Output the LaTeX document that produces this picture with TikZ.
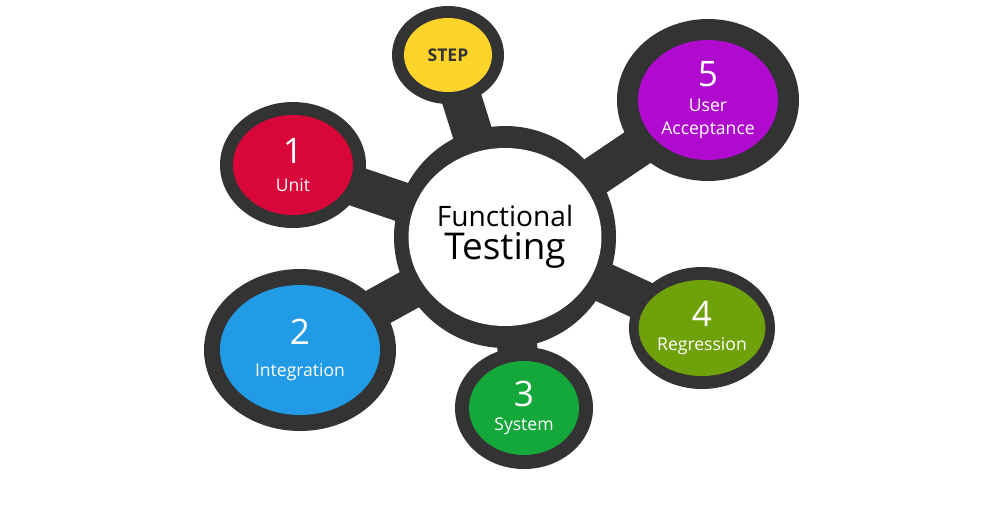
\documentclass[tikz,border=0pt]{standalone}
\usepackage{fontspec}
\setmainfont{Open Sans}
\usetikzlibrary{shapes.geometric}
\definecolor{ringgray}{HTML}{333333}
\definecolor{unitred}{HTML}{D9063A}
\definecolor{integblue}{HTML}{229BE6}
\definecolor{sysgreen}{HTML}{14A83A}
\definecolor{regolive}{HTML}{6FA10A}
\definecolor{uapurple}{HTML}{B00ACF}
\definecolor{stepyellow}{HTML}{FFD42A}
\newlength\pxu \setlength\pxu{0.02cm}
\begin{document}
\begin{tikzpicture}[x=0.02cm,y=-0.02cm,
        ring/.style={ellipse,fill=ringgray,inner sep=0pt},
        blob/.style={ellipse,inner sep=0pt,text=white,align=center,font=\normalsize},
        link/.style={ringgray,line width=0.8cm,shorten <=-0.4cm,shorten >=-0.4cm}]
        \useasboundingbox (0,0) rectangle (1000,525);

        % dark rings
        \node[ring,minimum width=222\pxu,minimum height=222\pxu] (C) at (505,237) {};
        \node[ring,minimum width=112\pxu,minimum height=98\pxu] (S) at (448,55) {};
        \node[ring,minimum width=146\pxu,minimum height=126\pxu] (U) at (293,165) {};
        \node[ring,minimum width=182\pxu,minimum height=162\pxu] (A) at (708,100) {};
        \node[ring,minimum width=192\pxu,minimum height=162\pxu] (I) at (300,350) {};
        \node[ring,minimum width=138\pxu,minimum height=122\pxu] (Y) at (524,408) {};
        \node[ring,minimum width=146\pxu,minimum height=122\pxu] (R) at (702,328) {};

        \draw[link] (C) -- (S);
        \draw[link] (C) -- (U);
        \draw[link] (C) -- (A);
        \draw[link] (C) -- (I);
        \draw[link] (C) -- (Y);
        \draw[link] (C) -- (R);

        % coloured discs
        \node[blob,fill=white,text=black,minimum width=186\pxu,minimum height=178\pxu] (c) at (505,237)
            {{\fontsize{16}{18}\selectfont Functional}\\[2pt]{\fontsize{21}{22}\selectfont Testing}};
        \node[blob,fill=stepyellow,text=ringgray,minimum width=88\pxu,minimum height=74\pxu,font=\bfseries\normalsize] (s) at (448,55) {STEP};
        \node[blob,fill=unitred,minimum width=120\pxu,minimum height=100\pxu] (u) at (293,165)
            {{\fontsize{20}{20}\selectfont 1}\\[4pt]Unit};
        \node[blob,fill=uapurple,minimum width=140\pxu,minimum height=120\pxu] (a) at (708,100)
            {{\fontsize{20}{20}\selectfont 5}\\[2pt]User\\[1pt]Acceptance};
        \node[blob,fill=integblue,minimum width=160\pxu,minimum height=130\pxu] (i) at (300,350)
            {{\fontsize{20}{20}\selectfont 2}\\[6pt]Integration};
        \node[blob,fill=sysgreen,minimum width=110\pxu,minimum height=94\pxu] (y) at (524,408)
            {{\fontsize{20}{20}\selectfont 3}\\[2pt]System};
        \node[blob,fill=regolive,minimum width=116\pxu,minimum height=96\pxu] (r) at (702,328)
            {{\fontsize{20}{20}\selectfont 4}\\[2pt]Regression};
\end{tikzpicture}
\end{document}
